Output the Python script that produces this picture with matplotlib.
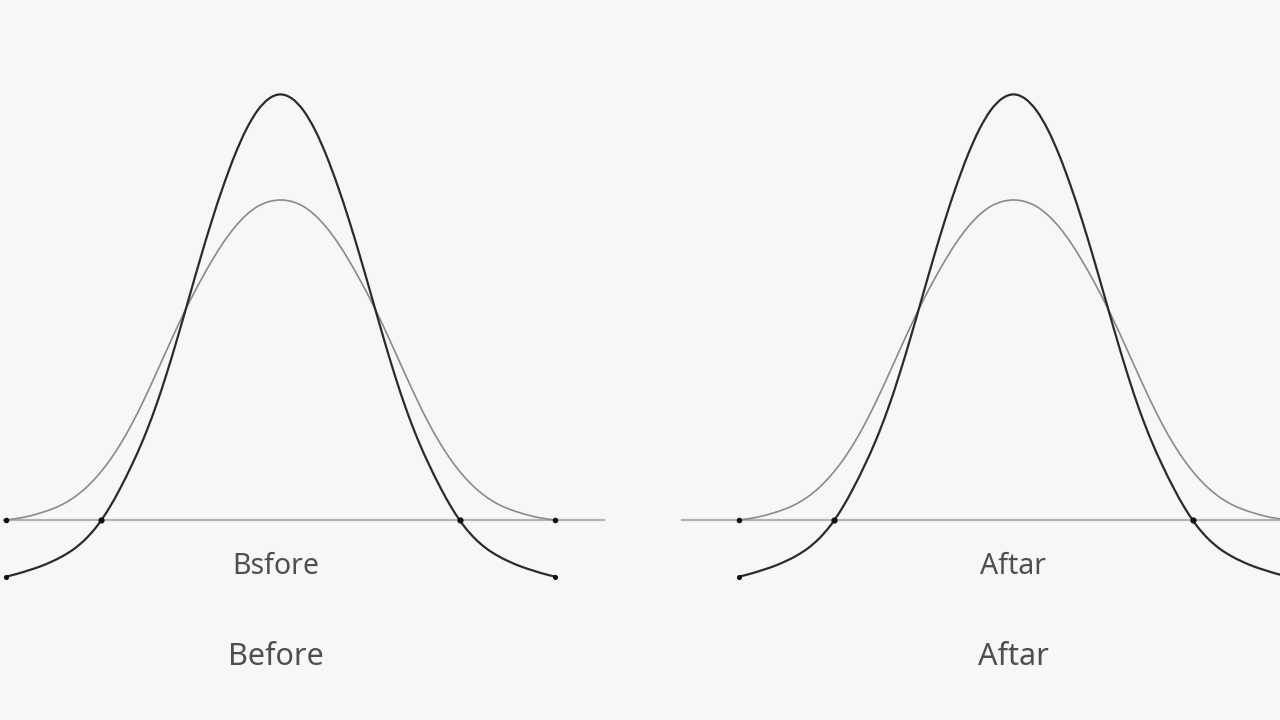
import matplotlib.pyplot as plt
from matplotlib.path import Path
from matplotlib.patches import PathPatch

# x positions (standardised units) shared by every curve
x_vals = [-3.0, -2.875, -2.75, -2.625, -2.5, -2.375, -2.25, -2.125, -2.0,
          -1.875, -1.75, -1.625, -1.5, -1.375, -1.25, -1.125, -1.0,
          -0.875, -0.75, -0.625, -0.5, -0.375, -0.25, -0.125, 0.0,
          0.125, 0.25, 0.375, 0.5, 0.625, 0.75, 0.875, 1.0,
          1.125, 1.25, 1.375, 1.5, 1.625, 1.75, 1.875, 2.0,
          2.125, 2.25, 2.375, 2.5, 2.625, 2.75, 2.875, 3.0]

# wide, lower curve (light gray)
wide_curve = [0.0, 0.005, 0.012, 0.022, 0.034, 0.050, 0.072, 0.101, 0.138,
              0.183, 0.237, 0.300, 0.371, 0.448, 0.527, 0.605, 0.679,
              0.747, 0.810, 0.867, 0.915, 0.953, 0.980, 0.995, 1.0,
              0.995, 0.980, 0.953, 0.915, 0.867, 0.810, 0.747, 0.679,
              0.605, 0.527, 0.448, 0.371, 0.300, 0.237, 0.183, 0.138,
              0.101, 0.072, 0.050, 0.034, 0.022, 0.012, 0.005, 0.0]

# narrow, taller curve (dark), dips below the baseline at the tails
narrow_curve = [-0.177, -0.168, -0.157, -0.145, -0.130, -0.112, -0.089, -0.058, -0.017,
                0.036, 0.100, 0.172, 0.252, 0.345, 0.452, 0.570, 0.694,
                0.818, 0.936, 1.044, 1.140, 1.220, 1.280, 1.317, 1.330,
                1.317, 1.280, 1.220, 1.140, 1.044, 0.936, 0.818, 0.694,
                0.570, 0.452, 0.345, 0.252, 0.172, 0.100, 0.036, -0.017,
                -0.058, -0.089, -0.112, -0.130, -0.145, -0.157, -0.168, -0.177]

# points where the curves meet the baseline / end
wide_ends_x = [-3.0, 3.0]
narrow_cross_x = [-1.96, 1.96]
narrow_ends_x = [-3.0, 3.0]

panel_names = ['Before', 'After']
upper_labels = ['Bsfore', 'Aftar']
lower_labels = ['Before', 'Aftar']


def smooth_path(xs, ys):
    # Catmull-Rom through the data points, drawn as cubic Bezier segments
    pts = list(zip(xs, ys))
    verts = [pts[0]]
    codes = [Path.MOVETO]
    n = len(pts)
    for k in range(n - 1):
        p0 = pts[max(k - 1, 0)]
        p1 = pts[k]
        p2 = pts[k + 1]
        p3 = pts[min(k + 2, n - 1)]
        c1 = (p1[0] + (p2[0] - p0[0]) / 6, p1[1] + (p2[1] - p0[1]) / 6)
        c2 = (p2[0] - (p3[0] - p1[0]) / 6, p2[1] - (p3[1] - p1[1]) / 6)
        verts += [c1, c2, p2]
        codes += [Path.CURVE4] * 3
    return Path(verts, codes)


bg = '#f7f7f6'
fig = plt.figure(figsize=(12.8, 7.2), dpi=100, facecolor=bg)

px_per_unit_x = 91.5
px_per_unit_y = 320.0
baseline_px = 520
centers_px = [280.5, 1013.5]
label_shift = [-5 / px_per_unit_x, 0]
baseline_span = [(-3.02, 3.54), (-3.62, 3.2)]

for i, name in enumerate(panel_names):
    ax = fig.add_axes([i * 0.5, 0, 0.5, 1])
    ax.set_facecolor(bg)
    left_px = i * 640
    ax.set_xlim((left_px - centers_px[i]) / px_per_unit_x,
                (left_px + 640 - centers_px[i]) / px_per_unit_x)
    ax.set_ylim(-(720 - baseline_px) / px_per_unit_y, baseline_px / px_per_unit_y)
    ax.axis('off')

    ax.plot(baseline_span[i], [0, 0], color='#b4b4b4', lw=1.6, zorder=1)
    ax.add_patch(PathPatch(smooth_path(x_vals, wide_curve), fill=False,
                           edgecolor='#8a8a8a', lw=1.2, zorder=2))
    ax.add_patch(PathPatch(smooth_path(x_vals, narrow_curve), fill=False,
                           edgecolor='#2b2b2b', lw=1.6, zorder=3))

    ax.scatter(wide_ends_x, [0, 0], s=9, color='#111111', zorder=4)
    ax.scatter(narrow_cross_x, [0, 0], s=12, color='#111111', zorder=4)
    ax.scatter(narrow_ends_x, [narrow_curve[0], narrow_curve[-1]], s=7,
               color='#111111', zorder=4)

    ax.text(label_shift[i], -47 / px_per_unit_y, upper_labels[i], ha='center',
            va='center', fontsize=20.5, color='#4f4f4f', family='Noto Sans',
            fontweight='medium')
    ax.text(label_shift[i], -137 / px_per_unit_y, lower_labels[i], ha='center',
            va='center', fontsize=22, color='#4f4f4f', family='Noto Sans',
            fontweight='medium')

fig.savefig('out.png', dpi=100, facecolor=bg)
